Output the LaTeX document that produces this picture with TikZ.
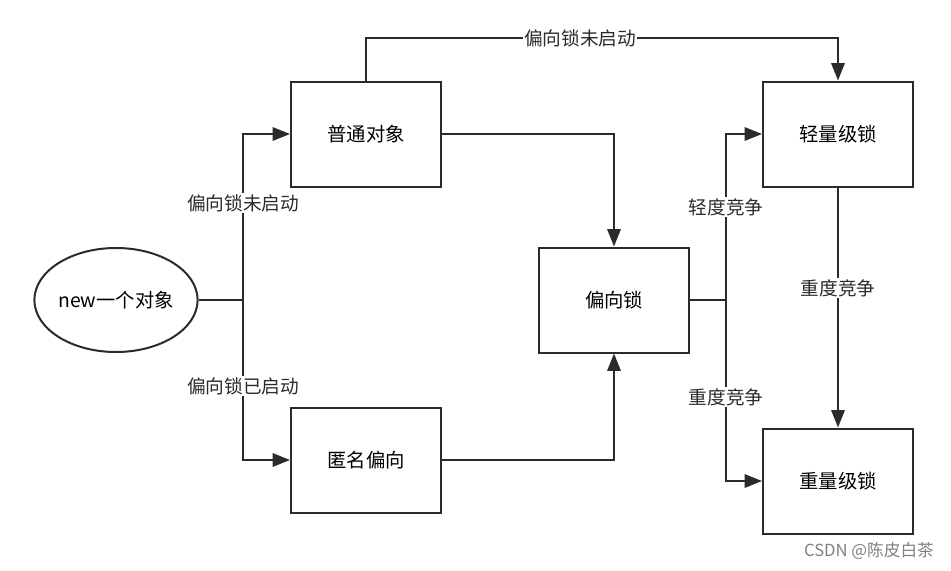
\documentclass[tikz,border=0pt]{standalone}
\usepackage{fontspec}
\setmainfont{Noto Sans CJK SC}
\usetikzlibrary{arrows.meta,shapes.geometric}
\definecolor{ln}{HTML}{2B2B2B}
\begin{document}
\begin{tikzpicture}[x=0.75pt,y=-0.75pt,
  box/.style={draw=ln,line width=1.5pt,minimum width=112.5pt,minimum height=78.75pt,inner sep=0,font=\fontsize{14.5}{16}\selectfont},
  con/.style={draw=ln,line width=1.5pt},
  arr/.style={con,-{Triangle[length=13pt,width=10pt]}},
  lab/.style={fill=white,inner sep=1pt,font=\fontsize{14}{16}\selectfont,text=ln}]
\useasboundingbox (0,0) rectangle (951,571);
\node[ellipse,draw=ln,line width=1.5pt,minimum width=117pt,minimum height=78pt,inner sep=0,font=\fontsize{14.5}{16}\selectfont] (new) at (116,300) {new一个对象};
\node[box] (pt) at (366,134) {普通对象};
\node[box] (nm) at (366,460) {匿名偏向};
\node[box] (px) at (614,300) {偏向锁};
\node[box] (qj) at (838,134) {轻量级锁};
\node[box] (zj) at (838,481) {重量级锁};
\coordinate (s1) at (243,300);
\coordinate (s2) at (726,300);
\draw[con] (new.east) -- (s1);
\draw[arr] (s1) |- (pt.west);
\draw[arr] (s1) |- (nm.west);
\node[lab] at (243,203) {偏向锁未启动};
\node[lab] at (243,386) {偏向锁已启动};
\draw[arr] (pt.east) -| (px.north);
\draw[arr] (nm.east) -| (px.south);
\draw[con] (px.east) -- (s2);
\draw[arr] (s2) |- (qj.west);
\draw[arr] (s2) |- (zj.west);
\node[lab] at (726,207) {轻度竞争};
\node[lab] at (726,397) {重度竞争};
\draw[arr] (pt.north) -- (366,38) -| (qj.north);
\node[lab] at (580,38) {偏向锁未启动};
\draw[arr] (qj.south) -- (zj.north) node[lab,pos=0.42] {重度竞争};
\node[font=\fontsize{12.5}{14}\selectfont,text=gray] at (869,551) {CSDN @陈皮白茶};
\end{tikzpicture}
\end{document}
